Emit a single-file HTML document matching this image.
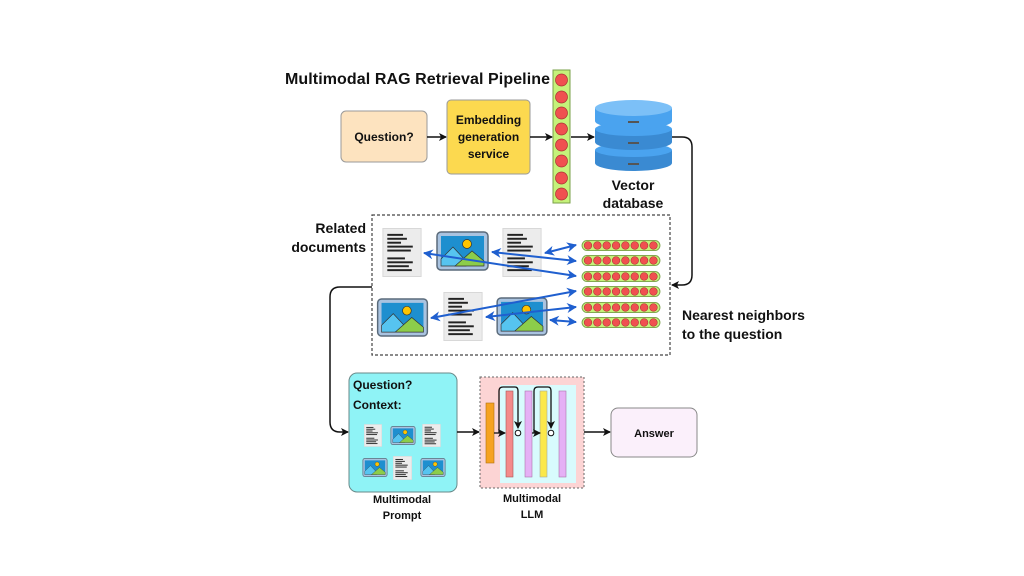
<!DOCTYPE html>
<html><head><meta charset="utf-8"><style>
html,body{margin:0;padding:0;background:#fff;}
svg{display:block;font-family:"Liberation Sans",sans-serif;}
.b{font-weight:bold;fill:#111;}
</style></head><body>
<svg width="1024" height="576" viewBox="0 0 1024 576" xmlns="http://www.w3.org/2000/svg">
<defs>
<marker id="ah" markerWidth="8" markerHeight="8" refX="7" refY="4" orient="auto" markerUnits="userSpaceOnUse"><path d="M0,0 L8,4 L0,8 L2,4 Z" fill="#111"/></marker>
<marker id="bh" markerWidth="10" markerHeight="10" refX="9" refY="5" orient="auto-start-reverse" markerUnits="userSpaceOnUse"><path d="M0,0 L10,5 L0,10 L3,5 Z" fill="#1f5fcf"/></marker>
<symbol id="doc" viewBox="0 0 40 50">
<rect x="0.5" y="0.5" width="39" height="49" fill="#ececec" stroke="#d8d8d8"/>
<g fill="#222"><rect x="5" y="6" width="16" height="2"/><rect x="5" y="10" width="20" height="2"/><rect x="5" y="14" width="14" height="2"/><rect x="5" y="18" width="26" height="2"/><rect x="5" y="22" width="24" height="2"/><rect x="5" y="30" width="18" height="2"/><rect x="5" y="34" width="26" height="2"/><rect x="5" y="38" width="22" height="2"/><rect x="5" y="42" width="25" height="2"/></g>
</symbol>
<symbol id="img" viewBox="0 0 53 40">
<rect x="1" y="1" width="51" height="38" rx="4" fill="#a9c3e0" stroke="#5a6a7a" stroke-width="1.5"/>
<rect x="5" y="5" width="43" height="30" fill="#1e8fcf"/>
<circle cx="31" cy="13" r="4.5" fill="#ffc400" stroke="#333" stroke-width="0.7"/>
<path d="M5,35 L5,28 L17,16 L30,30 L30,35Z" fill="#56c4f0" stroke="#333" stroke-width="0.7"/>
<path d="M19,35 L36,20 L48,30 L48,35Z" fill="#8ccd4a" stroke="#333" stroke-width="0.7"/>
</symbol>
<symbol id="row" viewBox="0 0 86 12">
<rect x="0.5" y="0.5" width="85" height="11" rx="5.5" fill="#c5f27a" stroke="#7aa04a"/>
<g fill="#f05050" stroke="#a33" stroke-width="0.6"><circle cx="7" cy="6" r="4.2"/><circle cx="17.2" cy="6" r="4.2"/><circle cx="27.4" cy="6" r="4.2"/><circle cx="37.6" cy="6" r="4.2"/><circle cx="47.8" cy="6" r="4.2"/><circle cx="58" cy="6" r="4.2"/><circle cx="68.2" cy="6" r="4.2"/><circle cx="78.4" cy="6" r="4.2"/></g>
</symbol>
</defs>

<text x="285" y="84" class="b" font-size="16" textLength="265">Multimodal RAG Retrieval Pipeline</text>

<rect x="341" y="111" width="86" height="51" rx="5" fill="#fde3bf" stroke="#9a9a9a"/>
<text x="384" y="141" class="b" font-size="12" text-anchor="middle">Question?</text>
<line x1="427" y1="137" x2="446" y2="137" stroke="#111" stroke-width="1.5" marker-end="url(#ah)"/>

<rect x="447" y="100" width="83" height="74" rx="4" fill="#fcd94f" stroke="#9a9a9a"/>
<text x="488.5" y="124" class="b" font-size="12" text-anchor="middle">Embedding</text>
<text x="488.5" y="141" class="b" font-size="12" text-anchor="middle">generation</text>
<text x="488.5" y="158" class="b" font-size="12" text-anchor="middle">service</text>
<line x1="530" y1="137" x2="552" y2="137" stroke="#111" stroke-width="1.5" marker-end="url(#ah)"/>

<rect x="553" y="70" width="17" height="133" fill="#c5f27a" stroke="#7aa04a"/>
<g fill="#f05050" stroke="#a33" stroke-width="0.7">
<circle cx="561.5" cy="80" r="6"/><circle cx="561.5" cy="97" r="6"/><circle cx="561.5" cy="113" r="6"/><circle cx="561.5" cy="129" r="6"/><circle cx="561.5" cy="145" r="6"/><circle cx="561.5" cy="161" r="6"/><circle cx="561.5" cy="178" r="6"/><circle cx="561.5" cy="194" r="6"/></g>
<line x1="571" y1="137" x2="594" y2="137" stroke="#111" stroke-width="1.5" marker-end="url(#ah)"/>

<!-- database -->
<g>
<path d="M595,150 v13 a38.5,8 0 0 0 77,0 v-13 z" fill="#3a8ad2"/>
<ellipse cx="633.5" cy="150" rx="38.5" ry="7" fill="#4aa3ef"/>
<path d="M595,129 v13 a38.5,8 0 0 0 77,0 v-13 z" fill="#3a8ad2"/>
<ellipse cx="633.5" cy="129" rx="38.5" ry="7" fill="#4aa3ef"/>
<path d="M595,108 v13 a38.5,8 0 0 0 77,0 v-13 z" fill="#4aa3ef"/>
<ellipse cx="633.5" cy="108" rx="38.5" ry="8" fill="#7cc0f7"/>
<g fill="#555"><rect x="628" y="121" width="11" height="2"/><rect x="628" y="142" width="11" height="2"/><rect x="628" y="163" width="11" height="2"/></g>
</g>
<text x="633" y="190" class="b" font-size="14" text-anchor="middle">Vector</text>
<text x="633" y="208" class="b" font-size="14" text-anchor="middle">database</text>
<path d="M672,137 H682 Q692,137 692,147 V275 Q692,285 682,285 H672" fill="none" stroke="#111" stroke-width="1.5" marker-end="url(#ah)"/>

<!-- retrieval box -->
<rect x="372" y="215" width="298" height="140" fill="none" stroke="#444" stroke-width="1.2" stroke-dasharray="3,2"/>
<text x="366" y="233" class="b" font-size="14" text-anchor="end">Related</text>
<text x="366" y="252" class="b" font-size="14" text-anchor="end">documents</text>
<text x="682" y="320" class="b" font-size="14">Nearest neighbors</text>
<text x="682" y="339" class="b" font-size="14">to the question</text>

<use href="#doc" x="382" y="228" width="40" height="49"/>
<use href="#img" x="436" y="231" width="53" height="40"/>
<use href="#doc" x="502" y="228" width="40" height="49"/>
<use href="#img" x="376" y="298" width="53" height="39"/>
<use href="#doc" x="443" y="292" width="40" height="49"/>
<use href="#img" x="496" y="297" width="52" height="39"/>

<use href="#row" x="578" y="240" width="86" height="11"/>
<use href="#row" x="578" y="255" width="86" height="11"/>
<use href="#row" x="578" y="271" width="86" height="11"/>
<use href="#row" x="578" y="286" width="86" height="11"/>
<use href="#row" x="578" y="302" width="86" height="11"/>
<use href="#row" x="578" y="317" width="86" height="11"/>

<g stroke="#1f5fcf" stroke-width="2" fill="none">
<line x1="545" y1="253" x2="576" y2="245" marker-start="url(#bh)" marker-end="url(#bh)"/>
<line x1="492" y1="252" x2="576" y2="261" marker-start="url(#bh)" marker-end="url(#bh)"/>
<line x1="424" y1="253" x2="576" y2="276" marker-start="url(#bh)" marker-end="url(#bh)"/>
<line x1="431" y1="318" x2="576" y2="291" marker-start="url(#bh)" marker-end="url(#bh)"/>
<line x1="486" y1="317" x2="576" y2="307" marker-start="url(#bh)" marker-end="url(#bh)"/>
<line x1="550" y1="320" x2="576" y2="322" marker-start="url(#bh)" marker-end="url(#bh)"/>
</g>

<path d="M372,287 H340 Q330,287 330,297 V422 Q330,432 340,432 H348" fill="none" stroke="#111" stroke-width="1.5" marker-end="url(#ah)"/>

<!-- prompt -->
<rect x="349" y="373" width="108" height="119" rx="8" fill="#8ff3f6" stroke="#6a8a8a"/>
<text x="353" y="389" class="b" font-size="12">Question?</text>
<text x="353" y="409" class="b" font-size="12">Context:</text>
<use href="#doc" x="364" y="424" width="18" height="23"/>
<use href="#img" x="390" y="426" width="26" height="19"/>
<use href="#doc" x="422" y="424" width="19" height="23"/>
<use href="#img" x="362" y="458" width="26" height="19"/>
<use href="#doc" x="393" y="456" width="19" height="24"/>
<use href="#img" x="420" y="458" width="26" height="19"/>
<text x="402" y="503" class="b" font-size="11" text-anchor="middle">Multimodal</text>
<text x="402" y="519" class="b" font-size="11" text-anchor="middle">Prompt</text>
<line x1="457" y1="432" x2="479" y2="432" stroke="#111" stroke-width="1.5" marker-end="url(#ah)"/>

<!-- LLM -->
<rect x="480" y="377" width="104" height="111" fill="#fcd4d4" stroke="#666" stroke-dasharray="2,2"/>
<rect x="500" y="385" width="76" height="98" fill="#d8fbfd"/>
<rect x="486" y="403" width="8" height="60" fill="#f6a221" stroke="#b07010" stroke-width="0.6"/>
<rect x="506" y="391" width="7" height="86" fill="#f48a8a" stroke="#a55" stroke-width="0.6"/>
<rect x="525" y="391" width="7" height="86" fill="#e5b0f5" stroke="#a7a" stroke-width="0.6"/>
<rect x="540" y="391" width="7" height="86" fill="#fbe84a" stroke="#aa9" stroke-width="0.6"/>
<rect x="559" y="391" width="7" height="86" fill="#e5b0f5" stroke="#a7a" stroke-width="0.6"/>
<g stroke="#111" stroke-width="1.3" fill="none">
<path d="M499,433 V391 Q499,387 503,387 H515 Q518,387 518,391 V428" marker-end="url(#ah)"/>
<path d="M534,433 V391 Q534,387 538,387 H548 Q551,387 551,391 V428" marker-end="url(#ah)"/>
<line x1="494" y1="433" x2="505" y2="433" marker-end="url(#ah)"/>
<line x1="532" y1="433" x2="540" y2="433" marker-end="url(#ah)"/>
</g>
<circle cx="518" cy="433" r="2.8" fill="#fff" stroke="#111"/>
<circle cx="551" cy="433" r="2.8" fill="#fff" stroke="#111"/>
<text x="532" y="502" class="b" font-size="11" text-anchor="middle">Multimodal</text>
<text x="532" y="518" class="b" font-size="11" text-anchor="middle">LLM</text>
<line x1="584" y1="432" x2="610" y2="432" stroke="#111" stroke-width="1.5" marker-end="url(#ah)"/>

<rect x="611" y="408" width="86" height="49" rx="7" fill="#fbf0fb" stroke="#888"/>
<text x="654" y="437" class="b" font-size="11" text-anchor="middle">Answer</text>
</svg>
</body></html>
